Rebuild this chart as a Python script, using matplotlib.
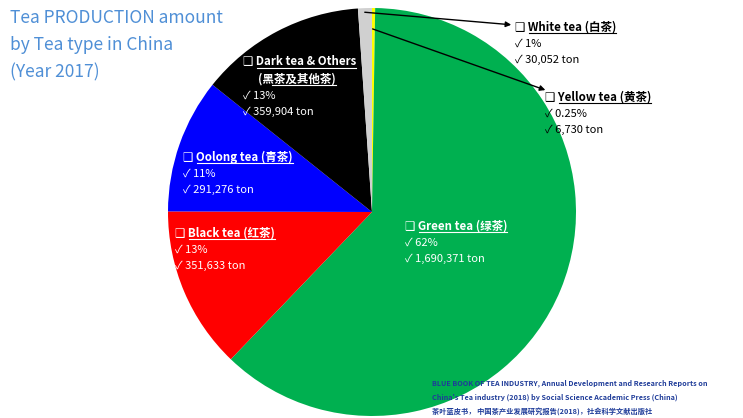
import matplotlib.pyplot as plt
from matplotlib.lines import Line2D

plt.rcParams['font.family'] = ['Noto Sans CJK SC', 'DejaVu Sans']

tea_types = ['Yellow tea', 'Green tea', 'Black tea', 'Oolong tea', 'Dark tea & Others', 'White tea']
tons = [6730, 1690371, 351633, 291276, 359904, 30052]
colors = ['#ffff00', '#00b050', '#ff0000', '#0000ff', '#000000', '#d0d0d0']

W, H = 743, 418
fig = plt.figure(figsize=(W / 100, H / 100), dpi=100)
cx, cy, r = 372, 212, 204
ax = fig.add_axes([(cx - r) / W, (H - cy - r) / H, 2 * r / W, 2 * r / H])
ax.pie(tons, colors=colors, startangle=90, counterclock=False,
       wedgeprops=dict(linewidth=0))
ax.set_aspect('equal')
ax.set_xlim(-1, 1)
ax.set_ylim(-1, 1)


def px(x, y):
    return x / W, 1 - y / H


# title
for i, line in enumerate(['Tea PRODUCTION amount', 'by Tea type in China', '(Year 2017)']):
    fig.text(*px(10, 18 + 27 * i), line, color='#4f8fd6', fontsize=12.5,
             va='center', ha='left')

headings = []


def label(x, y, head, lines, color, extra=None):
    t = fig.text(*px(x, y), '\u2751 ' + head, color=color, fontsize=8.3,
                 fontweight='bold', va='center', ha='left')
    headings.append((t, color))
    y2 = y
    if extra:
        y2 += 17
        t2 = fig.text(*px(x + 15, y2), extra, color=color, fontsize=8.3,
                      fontweight='bold', va='center', ha='left')
        headings.append((t2, color))
    for j, s in enumerate(lines):
        fig.text(*px(x, y2 + 17 + 16 * j), '\u2713 ' + s, color=color,
                 fontsize=8, va='center', ha='left')


label(515, 27, 'White tea (白茶)', ['1%', '30,052 ton'], 'black')
label(545, 97, 'Yellow tea (黄茶)', ['0.25%', '6,730 ton'], 'black')
label(243, 62, 'Dark tea & Others', ['13%', '359,904 ton'], 'white', extra='(黑茶及其他茶)')
label(183, 157, 'Oolong tea (青茶)', ['11%', '291,276 ton'], 'white')
label(175, 233, 'Black tea (红茶)', ['13%', '351,633 ton'], 'white')
label(405, 226, 'Green tea (绿茶)', ['62%', '1,690,371 ton'], 'white')

fig.canvas.draw()
inv = fig.transFigure.inverted()
for t, c in headings:
    bb = t.get_window_extent()
    (x0, y0), (x1, _) = inv.transform([(bb.x0 + 14, bb.y0), (bb.x1, bb.y0)])
    fig.add_artist(Line2D([x0, x1], [y0 + 0.002, y0 + 0.002], color=c, lw=0.8,
                          transform=fig.transFigure))

fig.add_artist(plt.matplotlib.patches.FancyArrowPatch(
    px(362, 12), px(514, 25), transform=fig.transFigure, arrowstyle='-|>',
    mutation_scale=8, color='black', lw=1))
fig.add_artist(plt.matplotlib.patches.FancyArrowPatch(
    px(370, 28), px(548, 91), transform=fig.transFigure, arrowstyle='-|>',
    mutation_scale=8, color='black', lw=1))

src = ['BLUE BOOK OF TEA INDUSTRY, Annual Development and Research Reports on',
       "China's Tea industry (2018) by Social Science Academic Press (China)",
       '茶叶蓝皮书， 中国茶产业发展研究报告(2018)，社会科学文献出版社']
for i, s in enumerate(src):
    fig.text(*px(432, 383 + 14 * i), s, color='#1f3c99', fontsize=5.2,
             fontstyle='italic', fontweight='bold', va='center', ha='left')

fig.savefig('out.png', dpi=100)
